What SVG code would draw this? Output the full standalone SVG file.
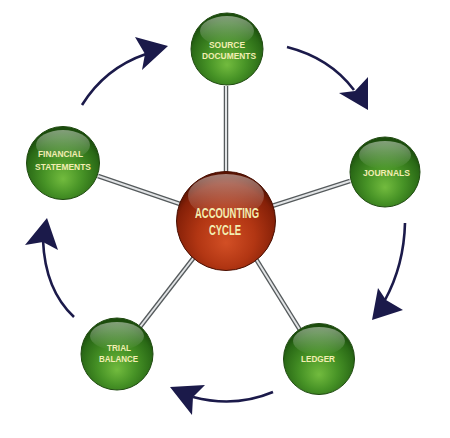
<svg xmlns="http://www.w3.org/2000/svg" width="450" height="438" viewBox="0 0 450 438">
<defs>
<radialGradient id="gGreen" cx="50%" cy="62%" r="58%" fx="50%" fy="72%">
<stop offset="0" stop-color="#72bb3e"/>
<stop offset="0.45" stop-color="#479326"/>
<stop offset="0.85" stop-color="#2a6a16"/>
<stop offset="1" stop-color="#1b4c0c"/>
</radialGradient>
<radialGradient id="gRed" cx="50%" cy="62%" r="58%" fx="50%" fy="72%">
<stop offset="0" stop-color="#d24f25"/>
<stop offset="0.5" stop-color="#b23613"/>
<stop offset="0.88" stop-color="#852008"/>
<stop offset="1" stop-color="#5a1403"/>
</radialGradient>
<linearGradient id="gHi" x1="0" y1="0" x2="0" y2="1">
<stop offset="0" stop-color="#ffffff" stop-opacity="0.45"/>
<stop offset="1" stop-color="#ffffff" stop-opacity="0"/>
</linearGradient>
</defs>
<style>
.spokeO{stroke:#555a5c;stroke-width:4.5;fill:none}
.spokeI{stroke:#e2e4e6;stroke-width:2;fill:none}
.arc{stroke:#1b1a4a;stroke-width:2.6;fill:none}
.head{fill:#1b1a4a}
.g{fill:url(#gGreen);stroke:#1f4a10;stroke-width:1}
.r{fill:url(#gRed);stroke:#4a1003;stroke-width:1}
.hi{fill:url(#gHi)}
.t{font-family:"Liberation Sans",Arial,sans-serif;font-weight:bold;fill:#f2edb2;text-anchor:middle}
</style>
<rect width="450" height="438" fill="#ffffff"/>
<g id="connectors">
<g id="spokes">
<line class="spokeO" x1="226" y1="86" x2="226" y2="174"/>
<line class="spokeI" x1="226" y1="86" x2="226" y2="174"/>
<line class="spokeO" x1="350" y1="181" x2="272" y2="206"/>
<line class="spokeI" x1="350" y1="181" x2="272" y2="206"/>
<line class="spokeO" x1="98" y1="176" x2="180" y2="204"/>
<line class="spokeI" x1="98" y1="176" x2="180" y2="204"/>
<line class="spokeO" x1="140" y1="327" x2="195" y2="256"/>
<line class="spokeI" x1="140" y1="327" x2="195" y2="256"/>
<line class="spokeO" x1="300" y1="330" x2="256" y2="259"/>
<line class="spokeI" x1="300" y1="330" x2="256" y2="259"/>
</g>
<g id="cycle-arrows">
<path class="arc" d="M82,105 Q105,68 146,54"/>
<polygon class="head" points="168,46 135,37 145,54 142,70"/>
<path class="arc" d="M287,47 Q330,58 354,90"/>
<polygon class="head" points="368,110 339,93 355,91 368,77"/>
<path class="arc" d="M405,223 Q404,265 385,300"/>
<polygon class="head" points="372,320 378,288 386,300 403,310"/>
<path class="arc" d="M273,392 Q235,408 193,397"/>
<polygon class="head" points="170,387 205,385 193,397 192,415"/>
<path class="arc" d="M74,317 Q45,290 43,240"/>
<polygon class="head" points="47,218 58,250 43,242 25,245"/>
</g>
</g>
<g id="node-center">
<circle class="r" cx="226" cy="221" r="49.5"/>
<ellipse class="hi" cx="226" cy="196" rx="38" ry="22"/>
<text class="t" x="227" y="218" font-size="14.5" textLength="64" lengthAdjust="spacingAndGlyphs">ACCOUNTING</text>
<text class="t" x="225" y="234.5" font-size="14.5" textLength="32" lengthAdjust="spacingAndGlyphs">CYCLE</text>
</g>
<g id="node-source">
<circle class="g" cx="227" cy="49" r="36"/>
<ellipse class="hi" cx="227" cy="31" rx="27" ry="15"/>
<text class="t" x="227" y="48" font-size="9.5" textLength="36" lengthAdjust="spacingAndGlyphs">SOURCE</text>
<text class="t" x="229" y="59" font-size="9.5" textLength="54" lengthAdjust="spacingAndGlyphs">DOCUMENTS</text>
</g>
<g id="node-journals">
<circle class="g" cx="385" cy="172" r="35"/>
<ellipse class="hi" cx="385" cy="155" rx="26" ry="14"/>
<text class="t" x="386.5" y="176" font-size="9.5" textLength="47" lengthAdjust="spacingAndGlyphs">JOURNALS</text>
</g>
<g id="node-ledger">
<circle class="g" cx="319" cy="359" r="35.5"/>
<ellipse class="hi" cx="319" cy="341" rx="26" ry="14"/>
<text class="t" x="318" y="362" font-size="9.5" textLength="34" lengthAdjust="spacingAndGlyphs">LEDGER</text>
</g>
<g id="node-trial">
<circle class="g" cx="117" cy="354" r="36"/>
<ellipse class="hi" cx="117" cy="336" rx="27" ry="14"/>
<text class="t" x="119" y="351" font-size="9.5" textLength="24" lengthAdjust="spacingAndGlyphs">TRIAL</text>
<text class="t" x="118.5" y="362" font-size="9.5" textLength="39" lengthAdjust="spacingAndGlyphs">BALANCE</text>
</g>
<g id="node-financial">
<circle class="g" cx="63" cy="163" r="36.5"/>
<ellipse class="hi" cx="63" cy="145" rx="27" ry="15"/>
<text class="t" x="60.5" y="157" font-size="9.5" textLength="45" lengthAdjust="spacingAndGlyphs">FINANCIAL</text>
<text class="t" x="63" y="170" font-size="9.5" textLength="56" lengthAdjust="spacingAndGlyphs">STATEMENTS</text>
</g>
</svg>
